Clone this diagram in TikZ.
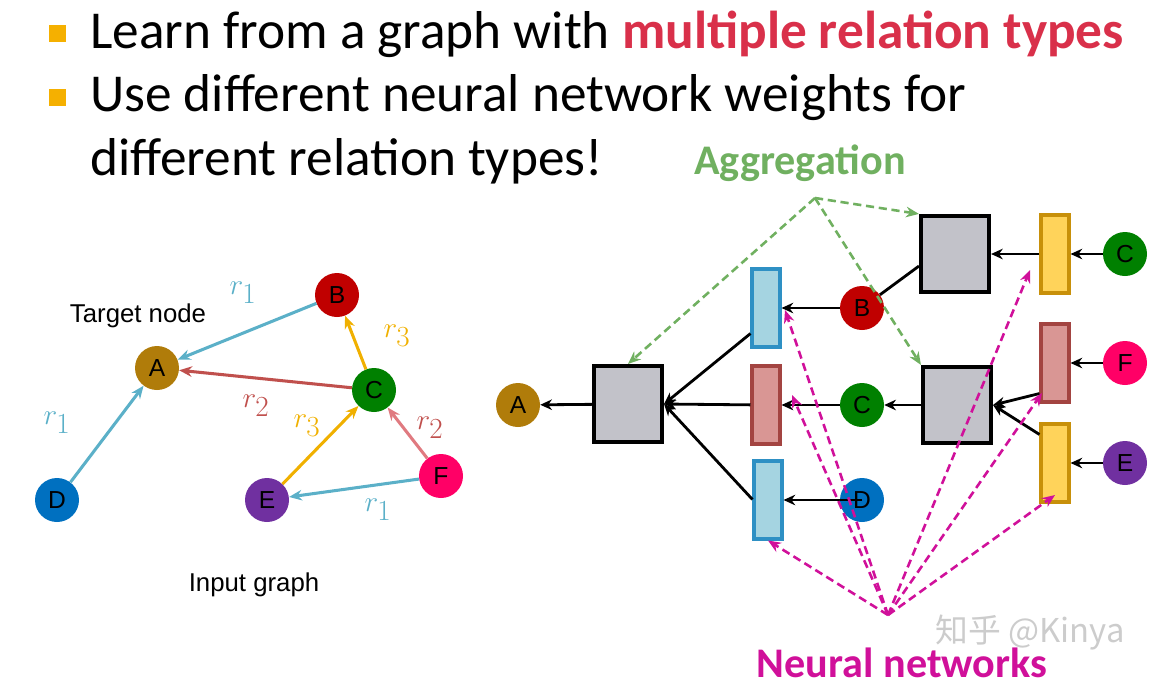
\documentclass[tikz,border=0pt]{standalone}
\usepackage{fontspec}
\setmainfont{Carlito}
\newfontfamily\cjk{Noto Sans CJK SC}
\newfontfamily\ar{Liberation Sans}
\usetikzlibrary{arrows.meta}
\definecolor{cA}{HTML}{B07C0A}\definecolor{cB}{HTML}{C00000}\definecolor{cC}{HTML}{008000}
\definecolor{cD}{HTML}{0070C0}\definecolor{cE}{HTML}{7030A0}\definecolor{cF}{HTML}{FF0066}
\definecolor{lb}{HTML}{5BB0C8}\definecolor{rr}{HTML}{C0504D}\definecolor{gy}{HTML}{F0B000}\definecolor{pk}{HTML}{E07A80}
\definecolor{grn}{HTML}{70B060}\definecolor{mag}{HTML}{D0109A}\definecolor{ttl}{HTML}{D9304A}
\definecolor{bul}{HTML}{F5B000}\definecolor{yf}{HTML}{FFD35A}\definecolor{yb}{HTML}{C8900A}
\begin{document}
\begin{tikzpicture}[x=0.03cm,y=-0.03cm,
 circ/.style={circle,minimum size=44*0.03cm,inner sep=0,text=black,font=\ar\fontsize{21}{21}\selectfont},
 big/.style={draw=black,line width=3.5pt,fill=gray!30!blue!8!gray!45,minimum width=68*0.03cm,minimum height=76*0.03cm},
 bar/.style={line width=2.6pt,minimum width=28*0.03cm,minimum height=78*0.03cm},
 ed/.style={line width=2.6pt,-{Stealth[length=11pt,width=9pt]}},
 blk/.style={line width=2.4pt,black,-{Stealth[length=10pt,width=9pt]}},
 gd/.style={grn,dash pattern=on 7pt off 4pt,line width=2.2pt,-{Stealth[length=11pt,width=9pt]}},
 md/.style={mag,dash pattern=on 7pt off 4pt,line width=2.2pt,-{Stealth[length=11pt,width=9pt]}},
 rl/.style={font=\fontsize{36}{36}\selectfont}]
\useasboundingbox (0,0) rectangle (1161,686);
\fill[bul] (49,25) rectangle (66,42);
\fill[bul] (49,89) rectangle (66,106);
\node[anchor=base west,inner sep=0,font=\fontsize{45.5}{48}\selectfont] (t1) at (90,48) {Learn from a graph with \textcolor{ttl}{\bfseries multiple relation types}};
\node[anchor=base west,inner sep=0,font=\fontsize{45.5}{48}\selectfont] (t2) at (90,111) {Use different neural network weights for};
\node[anchor=base west,inner sep=0,font=\fontsize{45.5}{48}\selectfont] (t3) at (90,175) {different relation types!};
\node[font=\bfseries\fontsize{36}{36}\selectfont,text=grn] (agg) at (800,163) {Aggregation};
\node[font=\bfseries\fontsize{36}{36}\selectfont,text=mag] (nn) at (902,663) {Neural networks};
\node[font=\cjk\fontsize{28}{28}\selectfont,text=gray!40] (wm) at (1030,633) {知乎 @Kinya};
% left graph
\node[circ,fill=cA] (A) at (157,368) {A};
\node[circ,fill=cB] (B) at (337,295) {B};
\node[circ,fill=cC] (C) at (374,390) {C};
\node[circ,fill=cD] (D) at (57,500) {D};
\node[circ,fill=cE] (E) at (267,500) {E};
\node[circ,fill=cF] (F) at (441,476) {F};
\draw[ed,lb] (B) -- (A);
\draw[ed,rr] (C) -- (A);
\draw[ed,lb] (D) -- (A);
\draw[ed,gy] (C) -- (B);
\draw[ed,gy] (E) -- (C);
\draw[ed,pk] (F) -- (C);
\draw[ed,lb] (F) -- (E);
\node[rl,text=lb] (l1) at (243,293) {$r_1$};
\node[rl,text=rr] (l2) at (256,406) {$r_2$};
\node[rl,text=lb] (l3) at (57,423) {$r_1$};
\node[rl,text=gy] (l4) at (397,336) {$r_3$};
\node[rl,text=gy] (l5) at (307,426) {$r_3$};
\node[rl,text=rr] (l6) at (430,428) {$r_2$};
\node[rl,text=lb] (l7) at (378,510) {$r_1$};
\node[font=\ar\fontsize{22}{22}\selectfont] (tn) at (138,316) {Target node};
\node[font=\ar\fontsize{22}{22}\selectfont] (ig) at (254,585) {Input graph};
% right
\node[circ,fill=cA] (RA) at (518,405) {A};
\node[big] (S1) at (628,404) {};
\node[big] (S2) at (955,254) {};
\node[big] (S3) at (957,405) {};
\node[bar,draw=cD!50!lb,fill=lb!55] (b1) at (766,308) {};
\node[bar,draw=rr!85!black,fill=rr!60] (r1) at (766,405) {};
\node[bar,draw=cD!50!lb,fill=lb!55] (b2) at (768,500) {};
\node[bar,draw=yb,fill=yf] (y1) at (1055,254) {};
\node[bar,draw=rr!85!black,fill=rr!60] (r2) at (1055,363) {};
\node[bar,draw=yb,fill=yf] (y2) at (1055,463) {};
\node[circ,fill=cB] (RB) at (862,308) {B};
\node[circ,fill=cC] (RC) at (862,405) {C};
\node[circ,fill=cD] (RD) at (862,500) {D};
\node[circ,fill=cC] (RC2) at (1125,254) {C};
\node[circ,fill=cF] (RF) at (1125,363) {F};
\node[circ,fill=cE] (RE) at (1125,463) {E};
\draw[blk] (S1) -- (RA);
\draw[blk] (b1.south west) ++(0,-15) -- (S1.east);
\draw[blk] (r1) -- (S1.east);
\draw[blk] (b2.north west) ++(0,40) -- (S1.east);
\draw[blk] (RB) -- (b1);
\draw[blk] (RC) -- (r1);
\draw[blk] (RD.center) -- (b2);
\draw[line width=2.4pt] (S2.south west) ++(0,-28) -- (RB);
\draw[blk] (S3) -- (RC);
\draw[blk] (y1) -- (S2);
\draw[blk] (RC2) -- (y1);
\draw[blk] (r2.south west) ++(0,-10) -- (S3.east);
\draw[blk] (y2.north west) ++(0,12) -- (S3.east);
\draw[blk] (RF) -- (r2);
\draw[blk] (RE) -- (y2);
\coordinate (g0) at (815,198);
\draw[gd] (g0) -- (S1.north);
\draw[gd] (g0) -- (S2.north west);
\draw[gd] (g0) -- (S3.north west);
\coordinate (m0) at (888,615);
\draw[md] (m0) -- (785,310);
\draw[md] (m0) -- (792,395);
\draw[md] (m0) -- (b2.south);
\draw[md] (m0) -- (1030,270);
\draw[md] (m0) -- (1042,393);
\draw[md] (m0) -- (1055,495);
\end{tikzpicture}
\end{document}
